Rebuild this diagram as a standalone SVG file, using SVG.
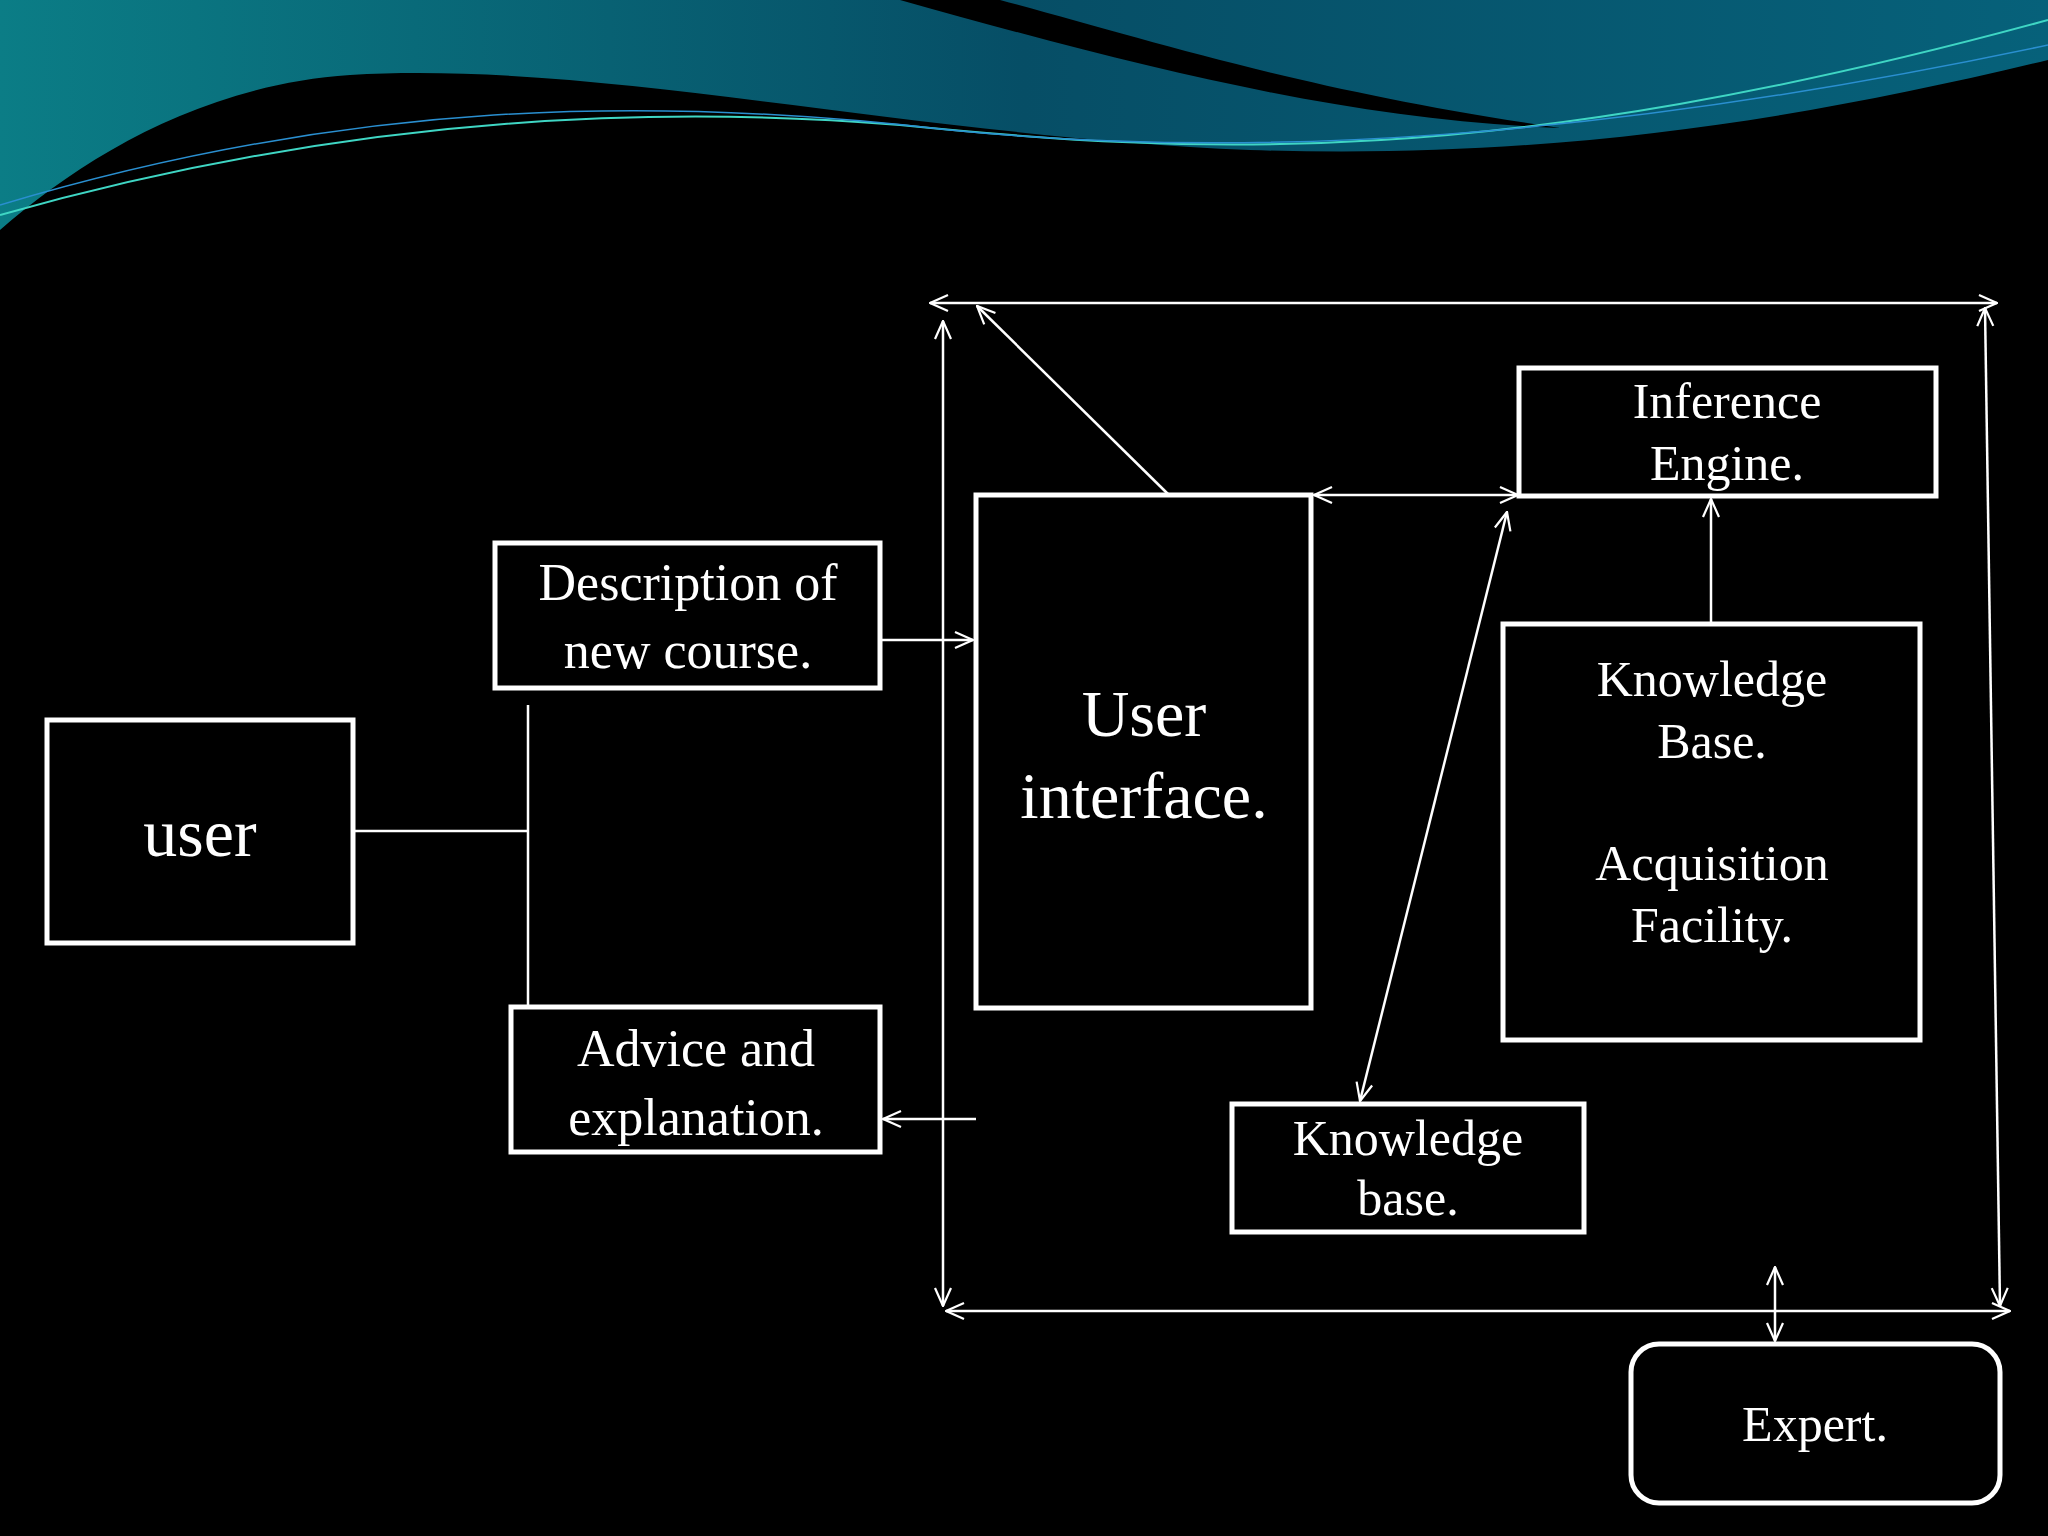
<svg xmlns="http://www.w3.org/2000/svg" width="2048" height="1536" viewBox="0 0 2048 1536">
<defs>
<linearGradient id="g" x1="0" y1="0" x2="1" y2="0">
<stop offset="0" stop-color="#0b7d86"/><stop offset="0.5" stop-color="#064e66"/><stop offset="1" stop-color="#06617a"/>
</linearGradient>
<marker id="a" viewBox="0 0 20 20" refX="19" refY="10" markerWidth="20" markerHeight="20" markerUnits="userSpaceOnUse" orient="auto-start-reverse">
<path d="M1,2 L19,10 L1,18" fill="none" stroke="#fff" stroke-width="2.2"/>
</marker>
<style>
.b{fill:#000;stroke:#fff;stroke-width:5}
.t{font-family:"Liberation Serif",serif;fill:#fff;text-anchor:middle}
.c line{stroke:#fff;stroke-width:2.5}
</style>
</defs>
<rect width="2048" height="1536" fill="#000"/>
<g id="decor">
<path d="M0,0 H2048 V60 C1800,120 1550,160 1250,150 C900,135 600,60 350,75 C200,85 80,160 0,230 Z" fill="url(#g)"/>
<path d="M900,0 C1150,70 1350,120 1560,128 C1300,90 1150,40 1000,0 Z" fill="#000"/>
<path d="M0,215 C300,130 600,100 900,125 C1200,155 1500,170 2048,20" fill="none" stroke="#3fd6c4" stroke-width="2"/>
<path d="M0,205 C350,100 650,95 950,130 C1250,160 1600,140 2048,45" fill="none" stroke="#2a8fd0" stroke-width="1.5"/>
</g>
<g class="c" id="connectors">
<line x1="353" y1="831" x2="528" y2="831"/>
<line x1="528" y1="705" x2="528" y2="1007"/>
<line x1="865" y1="640" x2="973" y2="640" marker-end="url(#a)"/>
<line x1="976" y1="1119" x2="883" y2="1119" marker-end="url(#a)"/>
<line x1="930" y1="303" x2="1997" y2="303" marker-start="url(#a)" marker-end="url(#a)"/>
<line x1="943" y1="321" x2="943" y2="1306" marker-start="url(#a)" marker-end="url(#a)"/>
<line x1="946" y1="1311" x2="2010" y2="1311" marker-start="url(#a)" marker-end="url(#a)"/>
<line x1="1985" y1="308" x2="2000" y2="1306" marker-start="url(#a)" marker-end="url(#a)"/>
<line x1="1169" y1="495" x2="977" y2="306" marker-end="url(#a)"/>
<line x1="1314" y1="495" x2="1518" y2="495" marker-start="url(#a)" marker-end="url(#a)"/>
<line x1="1507" y1="512" x2="1360" y2="1101" marker-start="url(#a)" marker-end="url(#a)"/>
<line x1="1711" y1="622" x2="1711" y2="499" marker-end="url(#a)"/>
<line x1="1775" y1="1267" x2="1775" y2="1341" marker-start="url(#a)" marker-end="url(#a)"/>
</g>
<g id="user"><rect class="b" x="47" y="720" width="306" height="223"/><text class="t" x="200" y="856" font-size="68">user</text></g>
<g id="desc"><rect class="b" x="495" y="543" width="385" height="145"/><text class="t" x="688" y="600" font-size="52">Description of</text><text class="t" x="688" y="668" font-size="52">new course.</text></g>
<g id="advice"><rect class="b" x="511" y="1007" width="369" height="145"/><text class="t" x="696" y="1066" font-size="52">Advice and</text><text class="t" x="696" y="1135" font-size="52">explanation.</text></g>
<g id="ui"><rect class="b" x="976" y="495" width="335" height="513"/><text class="t" x="1144" y="736" font-size="66">User</text><text class="t" x="1144" y="818" font-size="66">interface.</text></g>
<g id="ie"><rect class="b" x="1519" y="368" width="417" height="128"/><text class="t" x="1727" y="418" font-size="50">Inference</text><text class="t" x="1727" y="480" font-size="50">Engine.</text></g>
<g id="kba"><rect class="b" x="1503" y="624" width="417" height="416"/><text class="t" x="1712" y="696" font-size="50">Knowledge</text><text class="t" x="1712" y="758" font-size="50">Base.</text><text class="t" x="1712" y="880" font-size="50">Acquisition</text><text class="t" x="1712" y="942" font-size="50">Facility.</text></g>
<g id="kb"><rect class="b" x="1232" y="1104" width="352" height="128"/><text class="t" x="1408" y="1155" font-size="50">Knowledge</text><text class="t" x="1408" y="1215" font-size="50">base.</text></g>
<g id="expert"><rect class="b" x="1631" y="1344" width="369" height="159" rx="28"/><text class="t" x="1815" y="1441" font-size="50">Expert.</text></g>
</svg>
